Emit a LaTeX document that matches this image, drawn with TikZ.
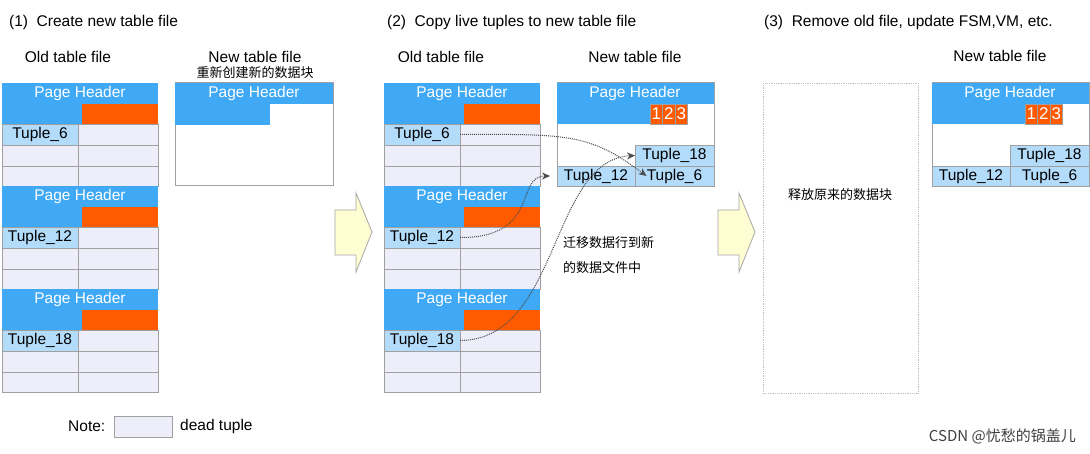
\documentclass[tikz,border=0pt]{standalone}
\usepackage{fontspec}
\setmainfont{Liberation Sans}
\newfontfamily\cjk{Noto Sans CJK SC}
\usetikzlibrary{arrows.meta}
\definecolor{hdr}{HTML}{3FA9F5}
\definecolor{org}{HTML}{FF5A00}
\definecolor{tup}{HTML}{B3DBFA}
\definecolor{dead}{HTML}{EEEEFB}
\definecolor{grd}{HTML}{A0A0A0}
\definecolor{ylw}{HTML}{FFFDD2}
\tikzset{
  x=1pt,y=-1pt,
  every node/.style={font=\fontsize{15.5}{18}\selectfont, inner sep=0pt},
  hdrtxt/.style={text=white},
  cell/.style={draw=grd, line width=0.8pt},
  conn/.style={densely dotted, line width=1pt, draw=black!70, -{Stealth[length=8pt,width=7pt]}},
  bigarrow/.style={draw=black!35, fill=ylw, line width=0.8pt},
  cjklbl/.style={font=\cjk\fontsize{13}{15}\selectfont},
}
\newcommand\oldblock[4]{% x, ytop, prefix, tuplename
  \fill[hdr] (#1,#2) rectangle ++(156,41);
  \fill[org] (#1+80,#2+21) rectangle (#1+156,#2+41);
  \node[hdrtxt] at (#1+78,#2+10.5) {Page Header};
  \filldraw[cell,fill=tup] (#1,#2+41) rectangle (#1+76,#2+62);
  \node (#3) at (#1+38,#2+51.5) {#4};
  \filldraw[cell,fill=dead] (#1+76,#2+41) rectangle (#1+156,#2+62);
  \coordinate (#3e) at (#1+76,#2+51.5);
  \filldraw[cell,fill=dead] (#1,#2+62) rectangle (#1+76,#2+83);
  \filldraw[cell,fill=dead] (#1+76,#2+62) rectangle (#1+156,#2+83);
  \filldraw[cell,fill=dead] (#1,#2+83) rectangle (#1+76,#2+103);
  \filldraw[cell,fill=dead] (#1+76,#2+83) rectangle (#1+156,#2+103);
}
\newcommand\oldtbl[2]{%
  \oldblock{#1}{83}{#2a}{Tuple\_6}
  \oldblock{#1}{186}{#2b}{Tuple\_12}
  \oldblock{#1}{289}{#2c}{Tuple\_18}
}
\newcommand\newtbl[2]{% x, prefix
  \draw[grd, line width=1pt, fill=white] (#1,83) rectangle (#1+157,186);
  \fill[hdr] (#1,83) rectangle (#1+157,104);
  \fill[hdr] (#1,104) rectangle (#1+93,124);
  \node[hdrtxt] at (#1+78,93.5) {Page Header};
  \foreach \d [count=\i from 0] in {1,2,3}
    {\filldraw[fill=org, draw=grd, line width=0.5pt] (#1+93+\i*12.5,104) rectangle ++(12.5,20);
     \node[text=white, font=\fontsize{17}{18}\selectfont] at (#1+99.25+\i*12.5,114) {\d};}
  \filldraw[cell,fill=tup] (#1+78,145) rectangle (#1+157,166);
  \node (#2r) at (#1+117.5,155.5) {Tuple\_18};
  \filldraw[cell,fill=tup] (#1,166) rectangle (#1+78,186);
  \node (#2l) at (#1+39,176) {Tuple\_12};
  \filldraw[cell,fill=tup] (#1+78,166) rectangle (#1+157,186);
  \node (#2m) at (#1+117.5,176) {Tuple\_6};
}
\newcommand\blockarrow[1]{%
  \draw[bigarrow] (#1,210) -- (#1+21,210) -- (#1+21,193) -- (#1+37,232)
    -- (#1+21,272) -- (#1+21,255) -- (#1,255) -- cycle;
}
\begin{document}
\begin{tikzpicture}
\useasboundingbox[fill=white] (0,0) rectangle (1090,454);
% titles
\node[anchor=west] (t1) at (9,22) {(1)\ \ Create new table file};
\node[anchor=west] (t2) at (387,22) {(2)\ \ Copy live tuples to new table file};
\node[anchor=west] (t3) at (764,22) {(3)\ \ Remove old file, update FSM,VM, etc.};
\node (o1) at (68,57) {Old table file};
\node (n1) at (255,57) {New table file};
\node[cjklbl] (n1c) at (255,73) {重新创建新的数据块};
\node (o2) at (441,57) {Old table file};
\node (n2) at (635,57) {New table file};
\node (n3) at (1000,56) {New table file};
% panel 1
\oldtbl{2}{p}
\draw[grd, line width=1pt, fill=white] (175,83) rectangle (333,186);
\fill[hdr] (175,83) rectangle (333,104);
\fill[hdr] (175,104) rectangle (270,125);
\node[hdrtxt] (h1) at (254,93.5) {Page Header};
% arrows
\blockarrow{335}
\blockarrow{718}
% panel 2
\oldtbl{384}{q}
\newtbl{557}{s}
\draw[conn] (qae) .. controls (570,134) and (590,134) .. (sm.west);
\draw[conn] (qbe) .. controls (540,238) and (515,176) .. (550,176);
\draw[conn] (qce) .. controls (560,340) and (550,160) .. (635,155.5);
\node[cjklbl, anchor=west] (m1) at (563,243) {迁移数据行到新};
\node[cjklbl, anchor=west] (m2) at (563,268) {的数据文件中};
% panel 3
\draw[black!25, densely dotted, line width=0.8pt] (763,83) rectangle (918,393);
\node[cjklbl] (f3) at (840,195) {释放原来的数据块};
\newtbl{932}{u}
% note
\node[anchor=west] (nt) at (68,426) {Note:};
\filldraw[cell,fill=dead] (114,416) rectangle (172,437);
\node[anchor=west] (dt) at (180,426) {dead tuple};
\node[anchor=east, text=black!75, font=\cjk\fontsize{15}{17}\selectfont] (wm) at (1076,436) {CSDN @忧愁的锅盖儿};
\end{tikzpicture}
\end{document}
